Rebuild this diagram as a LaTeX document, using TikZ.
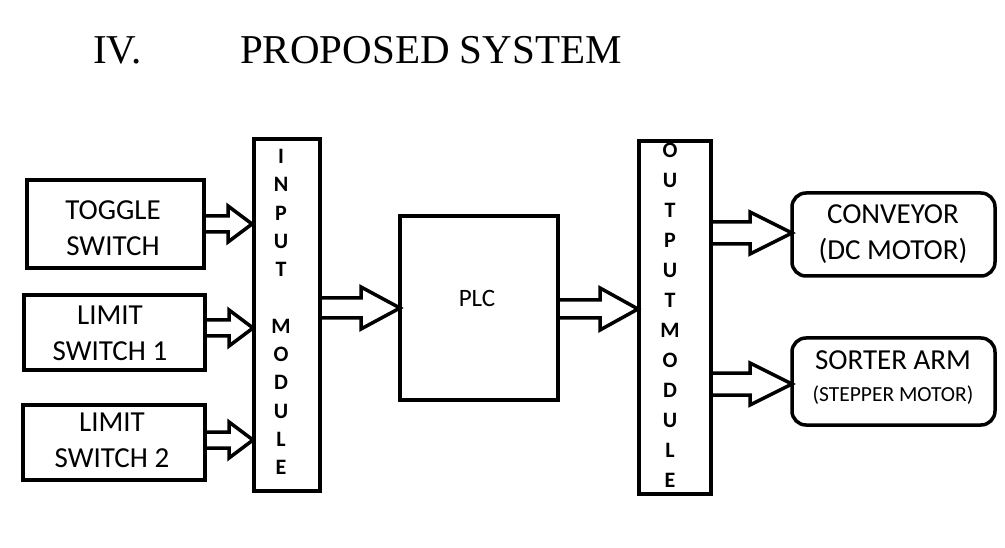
\documentclass[tikz,border=0pt]{standalone}
\usepackage{fontspec}
\setmainfont{Carlito}
\newfontfamily\titlefont{Liberation Serif}
\begin{document}
\begin{tikzpicture}[x=1pt,y=-1pt,line width=3.5pt,
  box/.style={draw,rectangle,inner sep=0pt},
  lbl/.style={font=\fontsize{29}{36}\selectfont,align=center,inner sep=0pt},
  vtxt/.style={font=\bfseries\fontsize{22}{28.3}\selectfont,align=center,inner sep=0pt},
  fat/.style={line join=miter}]
\useasboundingbox (0,0) rectangle (1005,548);
\node[font=\titlefont\fontsize{41}{41}\selectfont,anchor=west] (t1) at (88,50) {IV.};
\node[font=\titlefont\fontsize{41}{41}\selectfont,anchor=west] (t2) at (235,50) {PROPOSED SYSTEM};
% boxes
\draw (27,180) rectangle (204,268);
\node[lbl] (tog) at (113,228) {TOGGLE\\SWITCH};
\draw (24,295) rectangle (205,370);
\node[lbl] (l1) at (110,333) {LIMIT\\SWITCH 1};
\draw (23,405) rectangle (205,480);
\node[lbl] (l2) at (112,440) {LIMIT\\SWITCH 2};
\draw (254,139) rectangle (320,491);
\node[vtxt] (in) at (281,312) {I\\N\\P\\U\\T\\[28.3pt]M\\O\\D\\U\\L\\E};
\draw (400,216) rectangle (558,400);
\node[font=\fontsize{25}{25}\selectfont] (plc) at (477,298) {PLC};
\draw (639,141) rectangle (711,494);
\node[vtxt,font=\bfseries\fontsize{22}{30}\selectfont] (out) at (670,315) {O\\U\\T\\P\\U\\T\\M\\O\\D\\U\\L\\E};
\draw[rounded corners=14pt] (792,193) rectangle (995,276);
\node[lbl] (conv) at (893,234) {CONVEYOR\\(DC MOTOR)};
\draw[rounded corners=14pt] (792,338) rectangle (995,425);
\node[lbl,align=center] (sort) at (893,378) {SORTER ARM\\[-4pt]{\fontsize{21.5}{22}\selectfont (STEPPER MOTOR)}};
% arrows
\foreach \xa/\xh/\xt/\yc/\hw/\hh in {204/228/252/224/8/18, 205/229/253/328/8/18, 205/229/253/440/8/18, 320/361/400/308/10/21, 558/600/638/309/9/21, 711/750/792/233/11/21, 711/750/792/384/11/21}{
  \draw[fat] (\xa,\yc-\hw) -- (\xh,\yc-\hw) -- (\xh,\yc-\hh) -- (\xt,\yc) -- (\xh,\yc+\hh) -- (\xh,\yc+\hw) -- (\xa,\yc+\hw);
}
\end{tikzpicture}
\end{document}
